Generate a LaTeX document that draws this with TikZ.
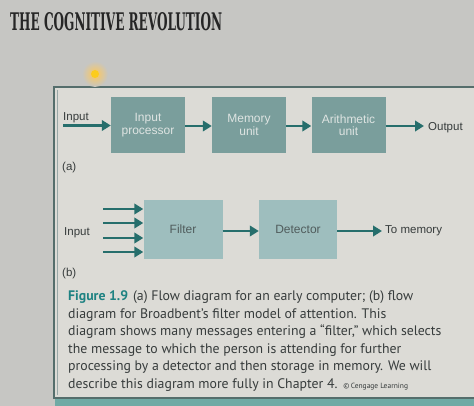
\documentclass[tikz,border=0pt]{standalone}
\usepackage{fontspec}
\setmainfont{Liberation Sans}
\newfontfamily\capfont{PT Sans}
\newfontfamily\titlefont{DejaVu Serif Condensed}
\usetikzlibrary{arrows.meta}
\definecolor{pagebg}{RGB}{198,198,195}
\definecolor{panelbg}{RGB}{220,219,214}
\definecolor{frame}{RGB}{85,110,108}
\definecolor{boxa}{RGB}{122,158,156}
\definecolor{boxb}{RGB}{158,190,190}
\definecolor{arrowc}{RGB}{38,110,108}
\definecolor{txta}{RGB}{222,228,226}
\definecolor{txtb}{RGB}{80,92,92}
\definecolor{txtd}{RGB}{55,60,60}
\definecolor{figc}{RGB}{30,130,130}
\definecolor{strip}{RGB}{112,170,165}
\definecolor{glow}{RGB}{255,200,90}
\tikzset{
  boxA/.style={fill=boxa, draw=none, minimum width=74pt, minimum height=56pt, inner sep=0pt, text=txta, font=\fontsize{12pt}{12.5pt}\selectfont, align=center},
  boxB/.style={fill=boxb, draw=none, minimum width=79pt, minimum height=59pt, inner sep=0pt, text=txtb, font=\fontsize{12pt}{13pt}\selectfont, align=center},
  flow/.style={draw=arrowc, line width=2.6pt, -{Triangle[length=9pt,width=10.5pt]}},
  lbl/.style={text=txtd, font=\fontsize{11.5pt}{12pt}\selectfont, inner sep=0pt},
  capline/.style={anchor=base west, inner sep=0pt, text=txtd, font=\capfont\fontsize{13.8pt}{16pt}\selectfont}
}
\begin{document}
\begin{tikzpicture}[x=1pt,y=-1pt]
\useasboundingbox (0,0) rectangle (474,406);
% page and panel
\fill[pagebg] (0,0) rectangle (474,406);
\fill[strip] (55,399) rectangle (474,406);
\fill[panelbg] (54,87) rectangle (476,398);
\draw[frame, line width=1.6pt] (476,87) -- (54,87) -- (54,398) -- (476,398);
\draw[frame!60, line width=0.6pt] (57,90) -- (57,395);
% lamp reflection
\shade[inner color=glow, outer color=pagebg] (95,74) circle (13pt);
\fill[yellow!60!orange!90] (95,74) circle (4pt);
% title
\node[anchor=base west, inner sep=0pt, text=black!85] (title) at (10,31)
  {\resizebox{212pt}{18pt}{\titlefont\bfseries THE COGNITIVE REVOLUTION}};
% (a) computer
\node[boxA] (ip) at (148,125) {Input\\processor};
\node[boxA] (mu) at (249,125) {Memory\\unit};
\node[boxA] (au) at (348.5,125) {Arithmetic\\unit};
\node[lbl, anchor=base west] (inA) at (63,121) {Input};
\coordinate (inAs) at (63,125.5);
\node[lbl, anchor=west] (outA) at (428,128) {Output};
\draw[flow] (inAs) -- (ip.west |- inAs);
\draw[flow] (ip.east |- 0,126) -- (mu.west |- 0,126);
\draw[flow] (mu.east |- 0,126) -- (au.west |- 0,126);
\draw[flow, shorten >=4pt] (au.east |- 0,126) -- (outA.west |- 0,126);
\node[lbl, anchor=west] (la) at (62,168) {(a)};
% (b) Broadbent
\node[boxB] (fi) at (183,229.5) {Filter};
\node[boxB, minimum width=78pt] (de) at (298,229.5) {Detector};
\node[lbl, anchor=west] (inB) at (64,233) {Input};
\foreach \yy/\nm in {209/i1,223/i2,238/i3,252/i4}{
  \coordinate (\nm) at (103,\yy);
  \draw[flow] (\nm) -- (fi.west |- \nm);
}
\node[lbl, anchor=west] (tm) at (385,231) {To memory};
\draw[flow] (fi.east |- 0,231) -- (de.west |- 0,231);
\draw[flow, shorten >=3pt] (de.east |- 0,231) -- (tm.west |- 0,231);
\node[lbl, anchor=west] (lb) at (62,274) {(b)};
% caption
\node[capline] (c1) at (68,301) {{\color{figc}\bfseries Figure 1.9}\hspace{5pt}(a) Flow diagram for an early computer; (b) flow};
\node[capline] (c2) at (68,318.4) {diagram for Broadbent’s filter model of attention. This};
\node[capline] (c3) at (68,335.8) {diagram shows many messages entering a “filter,” which selects};
\node[capline] (c4) at (68,353.2) {the message to which the person is attending for further};
\node[capline] (c5) at (68,370.6) {processing by a detector and then storage in memory. We will};
\node[capline] (c6) at (68,388) {describe this diagram more fully in Chapter 4.\hspace{6pt}{\fontsize{7.5pt}{8pt}\selectfont\textcopyright\,Cengage Learning}};
\end{tikzpicture}
\end{document}
